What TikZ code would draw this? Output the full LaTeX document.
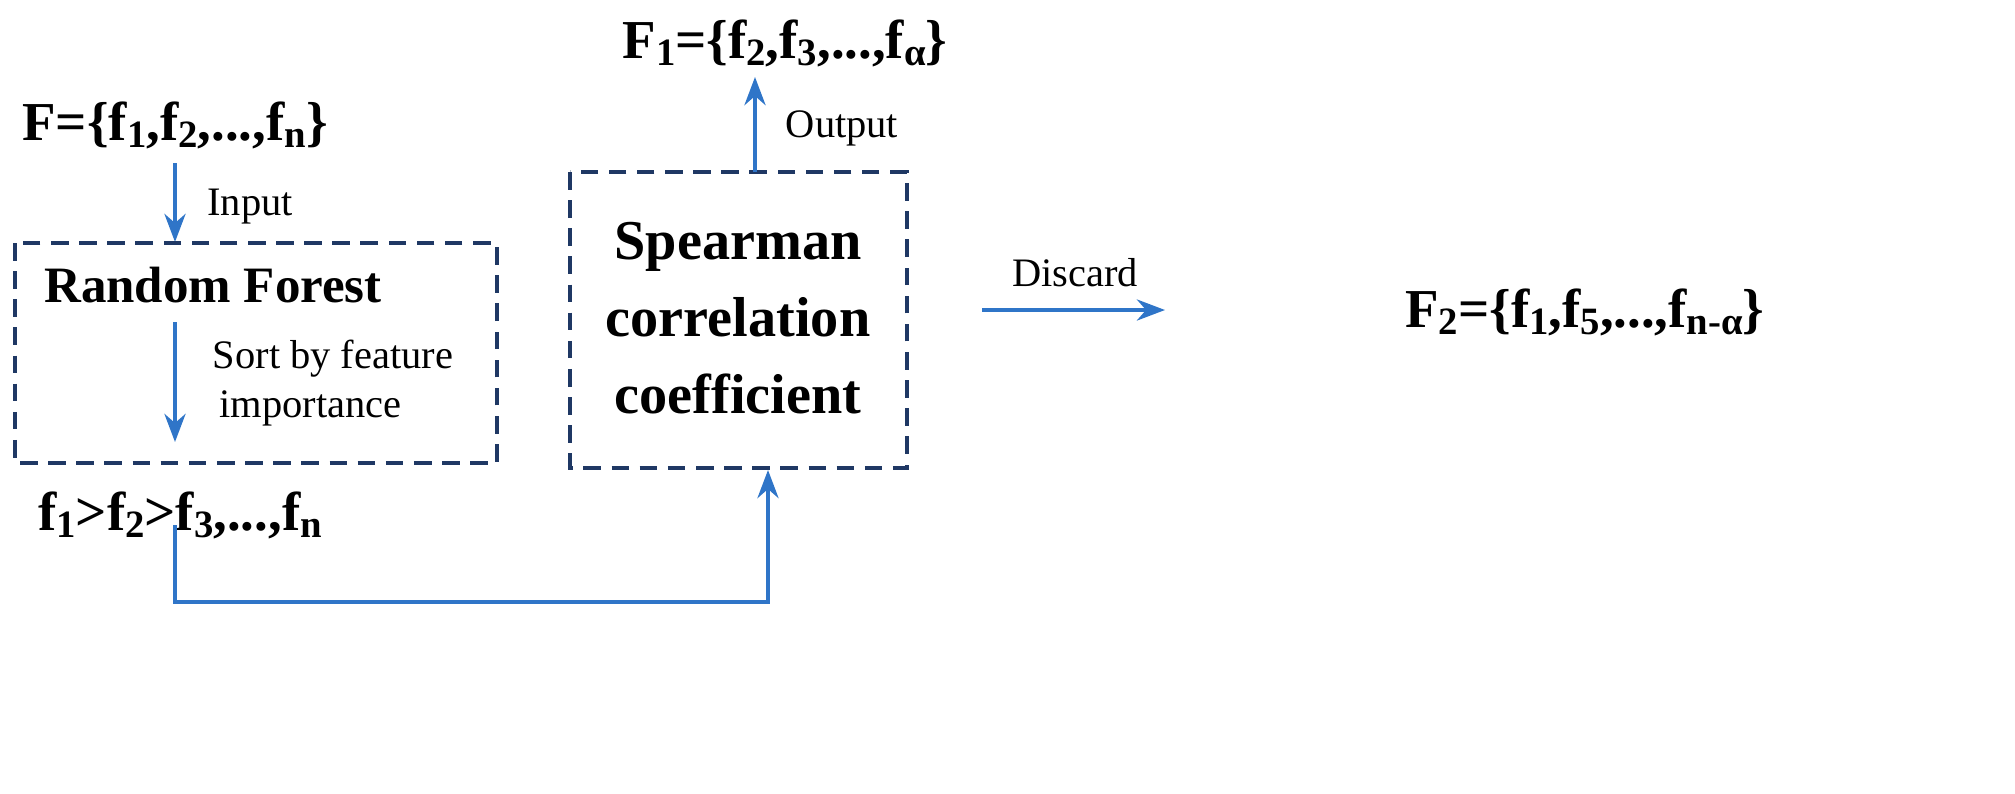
\documentclass[tikz,border=0pt]{standalone}
\usepackage{fontspec}
\setmainfont{Liberation Serif}
\usetikzlibrary{arrows.meta}
\definecolor{ab}{RGB}{47,117,200}
\definecolor{db}{RGB}{31,56,100}
\newcommand{\sbb}[1]{\raisebox{-0.3ex}{\fontsize{11}{12}\selectfont\bfseries #1}}
\begin{document}
\begin{tikzpicture}[x=0.01cm,y=-0.01cm,
  big/.style={font=\fontsize{15.6}{18}\selectfont\bfseries,inner sep=0},
  lab/.style={font=\fontsize{11.5}{14}\selectfont,inner sep=0},
  box/.style={draw=db,line width=1.1pt,dash pattern=on 5pt off 3pt},
  arr/.style={draw=ab,line width=1.1pt,-{Stealth[length=8pt,width=6pt]}}]
\useasboundingbox (0,0) rectangle (2015,793);
\node[big] (F) at (175,125) {F=\{f\sbb{1},f\sbb{2},...,f\sbb{n}\}};
\coordinate (a1) at (175,163);
\coordinate (a2) at (175,242);
\draw[arr] (a1) -- (a2);
\node[lab] (in) at (250,207) {Input};
\draw[box] (15,243) rectangle (497,463);
\node[font=\fontsize{14.5}{16}\selectfont\bfseries,inner sep=0] (rft) at (213,285) {Random Forest};
\coordinate (b1) at (175,322);
\coordinate (b2) at (175,442);
\draw[arr] (b1) -- (b2);
\node[lab,align=left] (sort) at (333,383) {Sort by feature\\ \,importance};
\node[big] (ord) at (180,515) {f\sbb{1}>f\sbb{2}>f\sbb{3},...,f\sbb{n}};
\draw[box] (570,172) rectangle (907,468);
\node[font=\fontsize{16}{22}\selectfont\bfseries,align=center,inner sep=0] (sp) at (738,318) {Spearman\\correlation\\coefficient};
\coordinate (c1) at (175,525);
\coordinate (c2) at (175,602);
\coordinate (c3) at (768,602);
\coordinate (c4) at (768,470);
\draw[arr] (c1) -- (c2) -- (c3) -- (c4);
\coordinate (d1) at (755,172);
\coordinate (d2) at (755,77);
\draw[arr] (d1) -- (d2);
\node[lab] (out) at (842,128) {Output};
\node[big] (F1) at (785,43) {F\sbb{1}=\{f\sbb{2},f\sbb{3},...,f\sbb{α}\}};
\coordinate (e1) at (982,310);
\coordinate (e2) at (1165,310);
\draw[arr] (e1) -- (e2);
\node[lab] (dis) at (1075,273) {Discard};
\node[big] (F2) at (1585,312) {F\sbb{2}=\{f\sbb{1},f\sbb{5},...,f\sbb{n-α}\}};
\end{tikzpicture}
\end{document}
